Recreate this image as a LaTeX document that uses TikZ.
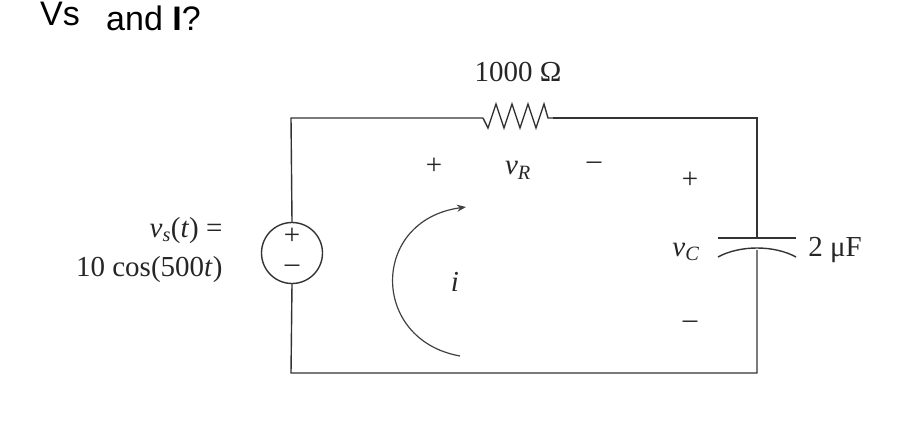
\documentclass[tikz,border=0pt]{standalone}
\usepackage{fontspec}
\setmainfont{Liberation Serif}
\newfontfamily\hs{Liberation Sans}
\usetikzlibrary{arrows.meta}
\newcommand{\vv}[1]{\textit{v}\textsubscript{\textit{#1}}}
\begin{document}
\begin{tikzpicture}[x=1pt,y=-1pt,
  wire/.style={draw=black!80,line width=1.4pt},
  lbl/.style={text=black!85,font=\fontsize{29}{31}\selectfont}]
\useasboundingbox (0,0) rectangle (921,428);
\node[anchor=base west,font=\hs\fontsize{34}{36}\selectfont,inner sep=0] (q) at (40,26) {Vs};
\node[anchor=base west,font=\hs\fontsize{34}{36}\selectfont,inner sep=0] (q2) at (106,31) {and \textbf{I}?};
\coordinate (tl) at (291,118); \coordinate (tr) at (757,118);
\coordinate (bl) at (291,373); \coordinate (br) at (757,373);
\coordinate (r1) at (483,118); \coordinate (r2) at (553,118);
\coordinate (c1) at (757,238); \coordinate (c2) at (757,250);
\node[draw=black!80,line width=1.4pt,circle,minimum size=61pt,inner sep=0] (src) at (292,253) {};
\draw[wire] (src.north) -- (tl) -- (r1);
\draw[wire] (r1) -- (488,128) -- (496,104) -- (504,128) -- (512,104) -- (520,128) -- (528,104) -- (536,128) -- (544,104) -- (548,118) -- (r2);
\draw[wire] (r2) -- (tr) -- (c1);
\draw[wire] (c2) -- (br) -- (bl) -- (src.south);
\draw[wire] (718,238) -- (796,238);
\draw[wire] (718,257) .. controls (740,245) and (774,245) .. (796,257);
\node[lbl] (sp) at (292,236) {+};
\node[lbl] (sm) at (292,269) {\textendash};
\node[lbl,anchor=east] (vs1) at (226,231) {\vv{s}(\textit{t}) =};
\node[lbl,anchor=east] (vs2) at (226,270) {10 cos(500\textit{t})};
\node[lbl] (res) at (518,72) {1000 Ω};
\node[lbl] (cap) at (835,250) {2 μF};
\node[lbl] (vc) at (686,252) {\vv{C}};
\node[lbl] (cp) at (690,180) {+};
\node[lbl] (cm) at (690,325) {\textendash};
\node[lbl] (rp) at (434,166) {+};
\node[lbl] (vr) at (518,170) {\vv{R}};
\node[lbl] (rm) at (594,166) {\textendash};
\node[lbl] (ii) at (455,282) {\textit{i}};
\draw[black!75,line width=1.2pt,-{Stealth[length=9pt,width=7pt]}] (460,356) .. controls (370,340) and (370,220) .. (466,207);
\end{tikzpicture}
\end{document}
